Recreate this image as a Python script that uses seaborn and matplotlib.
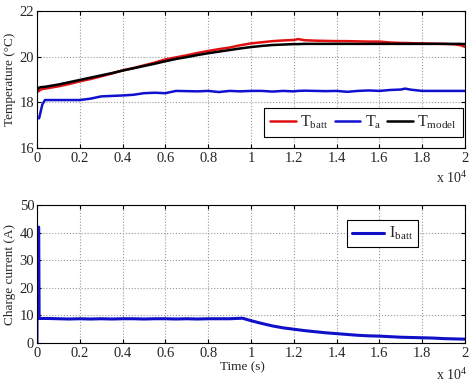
import numpy as np
import pandas as pd
import matplotlib
matplotlib.use("Agg")
import matplotlib.pyplot as plt
import seaborn as sns

# estilo tipo MATLAB
sns.set_style("ticks")
plt.rcParams["font.family"] = ["Liberation Serif", "DejaVu Serif"]
plt.rcParams["mathtext.fontset"] = "custom"
plt.rcParams["mathtext.rm"] = "Liberation Serif"
plt.rcParams["mathtext.it"] = "Liberation Serif:italic"

# datos
t_temp = [0, 100, 150, 250, 370, 500, 1000, 1500, 2000, 2500, 3000, 3500, 4000,
          4500, 5000, 5500, 6000, 6500, 7000, 7500, 8000, 8500, 9000, 9500,
          10000, 10500, 11000, 11500, 12000, 12200, 12500, 13000, 13500, 14000,
          14500, 15000, 15500, 16000, 16500, 17000, 17200, 17500, 18000, 18500,
          19000, 19500, 19800, 20000]
t_batt = [18.45, 18.5, 18.55, 18.58, 18.6, 18.62, 18.7, 18.8, 18.92, 19.02,
          19.14, 19.26, 19.4, 19.5, 19.62, 19.74, 19.88, 19.97, 20.06, 20.16,
          20.25, 20.33, 20.4, 20.5, 20.58, 20.63, 20.68, 20.71, 20.73, 20.77,
          20.72, 20.7, 20.69, 20.68, 20.68, 20.67, 20.66, 20.66, 20.62, 20.6,
          20.6, 20.59, 20.58, 20.57, 20.56, 20.54, 20.5, 20.43]
t_a = [17.33, 17.3, 17.5, 17.9, 18.1, 18.1, 18.1, 18.1, 18.1, 18.16, 18.26,
       18.28, 18.3, 18.33, 18.4, 18.42, 18.4, 18.5, 18.49, 18.48, 18.5, 18.45,
       18.5, 18.48, 18.5, 18.5, 18.47, 18.5, 18.48, 18.5, 18.51, 18.5, 18.49,
       18.5, 18.46, 18.5, 18.52, 18.5, 18.54, 18.56, 18.6, 18.55, 18.5, 18.5,
       18.5, 18.5, 18.5, 18.5]
t_model = [18.55, 18.64, 18.66, 18.67, 18.68, 18.7, 18.78, 18.88, 18.98, 19.08,
           19.18, 19.28, 19.39, 19.49, 19.59, 19.69, 19.8, 19.9, 19.98, 20.07,
           20.15, 20.22, 20.29, 20.36, 20.42, 20.47, 20.51, 20.53, 20.55, 20.55,
           20.56, 20.56, 20.56, 20.56, 20.56, 20.56, 20.56, 20.56, 20.56, 20.56,
           20.56, 20.56, 20.56, 20.56, 20.56, 20.56, 20.56, 20.55]

t_curr = [0, 10, 80, 100, 500, 1000, 1500, 2000, 2500, 3000, 3500, 4000, 4500,
          5000, 5500, 6000, 6500, 7000, 7500, 8000, 8500, 9000, 9600, 10000,
          10500, 11000, 11500, 12000, 12500, 13000, 13500, 14000, 14500, 15000,
          15500, 16000, 16500, 17000, 17500, 18000, 18500, 19000, 19500, 20000]
i_batt = [0, 42, 42, 8.9, 8.9, 8.8, 8.7, 8.8, 8.7, 8.8, 8.7, 8.8, 8.8, 8.7,
          8.8, 8.8, 8.7, 8.8, 8.7, 8.8, 8.8, 8.8, 9.0, 8.1, 7.1, 6.2, 5.5,
          5.0, 4.5, 4.1, 3.7, 3.4, 3.1, 2.8, 2.6, 2.5, 2.3, 2.1, 2.0, 1.9,
          1.8, 1.6, 1.5, 1.4]

fig = plt.figure(figsize=(4.74, 3.83), dpi=100)
ax1 = fig.add_axes([0.078, 0.6136, 0.903, 0.3577])
ax2 = fig.add_axes([0.078, 0.1044, 0.903, 0.360])

sns.lineplot(x=t_temp, y=t_batt, ax=ax1, color="#e01010", lw=1.8, label=r"T$_{\mathrm{batt}}$")
sns.lineplot(x=t_temp, y=t_a, ax=ax1, color="#1010d0", lw=1.8, label=r"T$_{\mathrm{a}}$")
sns.lineplot(x=t_temp, y=t_model, ax=ax1, color="black", lw=1.8, label=r"T$_{\mathrm{model}}$")
sns.lineplot(x=t_curr, y=i_batt, ax=ax2, color="#1010c8", lw=2.2, label=r"I$_{\mathrm{batt}}$")

for ax in (ax1, ax2):
    ax.set_xlim(0, 20000)
    ax.set_xticks(np.arange(0, 20001, 2000))
    ax.set_xticklabels(["0", "0.2", "0.4", "0.6", "0.8", "1", "1.2", "1.4", "1.6", "1.8", "2"])
    ax.grid(True, ls=":", color="#999999", lw=0.8)
    ax.tick_params(direction="in", top=True, right=True, labelsize=10.5, length=3,
                   color="black", pad=3)
    ax.tick_params(axis="y", pad=2)
    for s in ax.spines.values():
        s.set_color("black")
        s.set_linewidth(0.8)

# multiplicador del eje x
fig.text(0.985, 0.535, r"x 10$^{4}$", fontsize=10, ha="right", va="center")
fig.text(0.985, 0.022, r"x 10$^{4}$", fontsize=10, ha="right", va="center")

ax1.set_ylim(16, 22)
ax1.set_yticks([16, 18, 20, 22])
ax1.set_ylabel("Temperature (°C)", fontsize=9.5)
ax1.yaxis.set_label_coords(-0.048, 0.5)
leg1 = ax1.legend(loc="lower right", ncol=3, fontsize=11.5, fancybox=False,
                  edgecolor="black", framealpha=1, handlelength=1.6,
                  columnspacing=0.35, handletextpad=0.3, borderpad=0.35,
                  borderaxespad=0, bbox_to_anchor=(0.995, 0.08))
leg1.get_frame().set_linewidth(0.8)

ax2.set_ylim(0, 50)
ax2.set_yticks([0, 10, 20, 30, 40, 50])
ax2.set_ylabel("Charge current (A)", fontsize=9.5)
ax2.yaxis.set_label_coords(-0.048, 0.5)
ax2.set_xlabel("Time (s)", fontsize=9.5)
ax2.xaxis.set_label_coords(0.479, -0.135)
leg2 = ax2.legend(loc="upper right", fontsize=11.5, fancybox=False,
                  edgecolor="black", framealpha=1, handlelength=2.0,
                  handletextpad=0.3, borderpad=0.3, borderaxespad=0,
                  bbox_to_anchor=(0.89, 0.89))
leg2.get_frame().set_linewidth(0.8)

fig.savefig("out.png", dpi=100)
